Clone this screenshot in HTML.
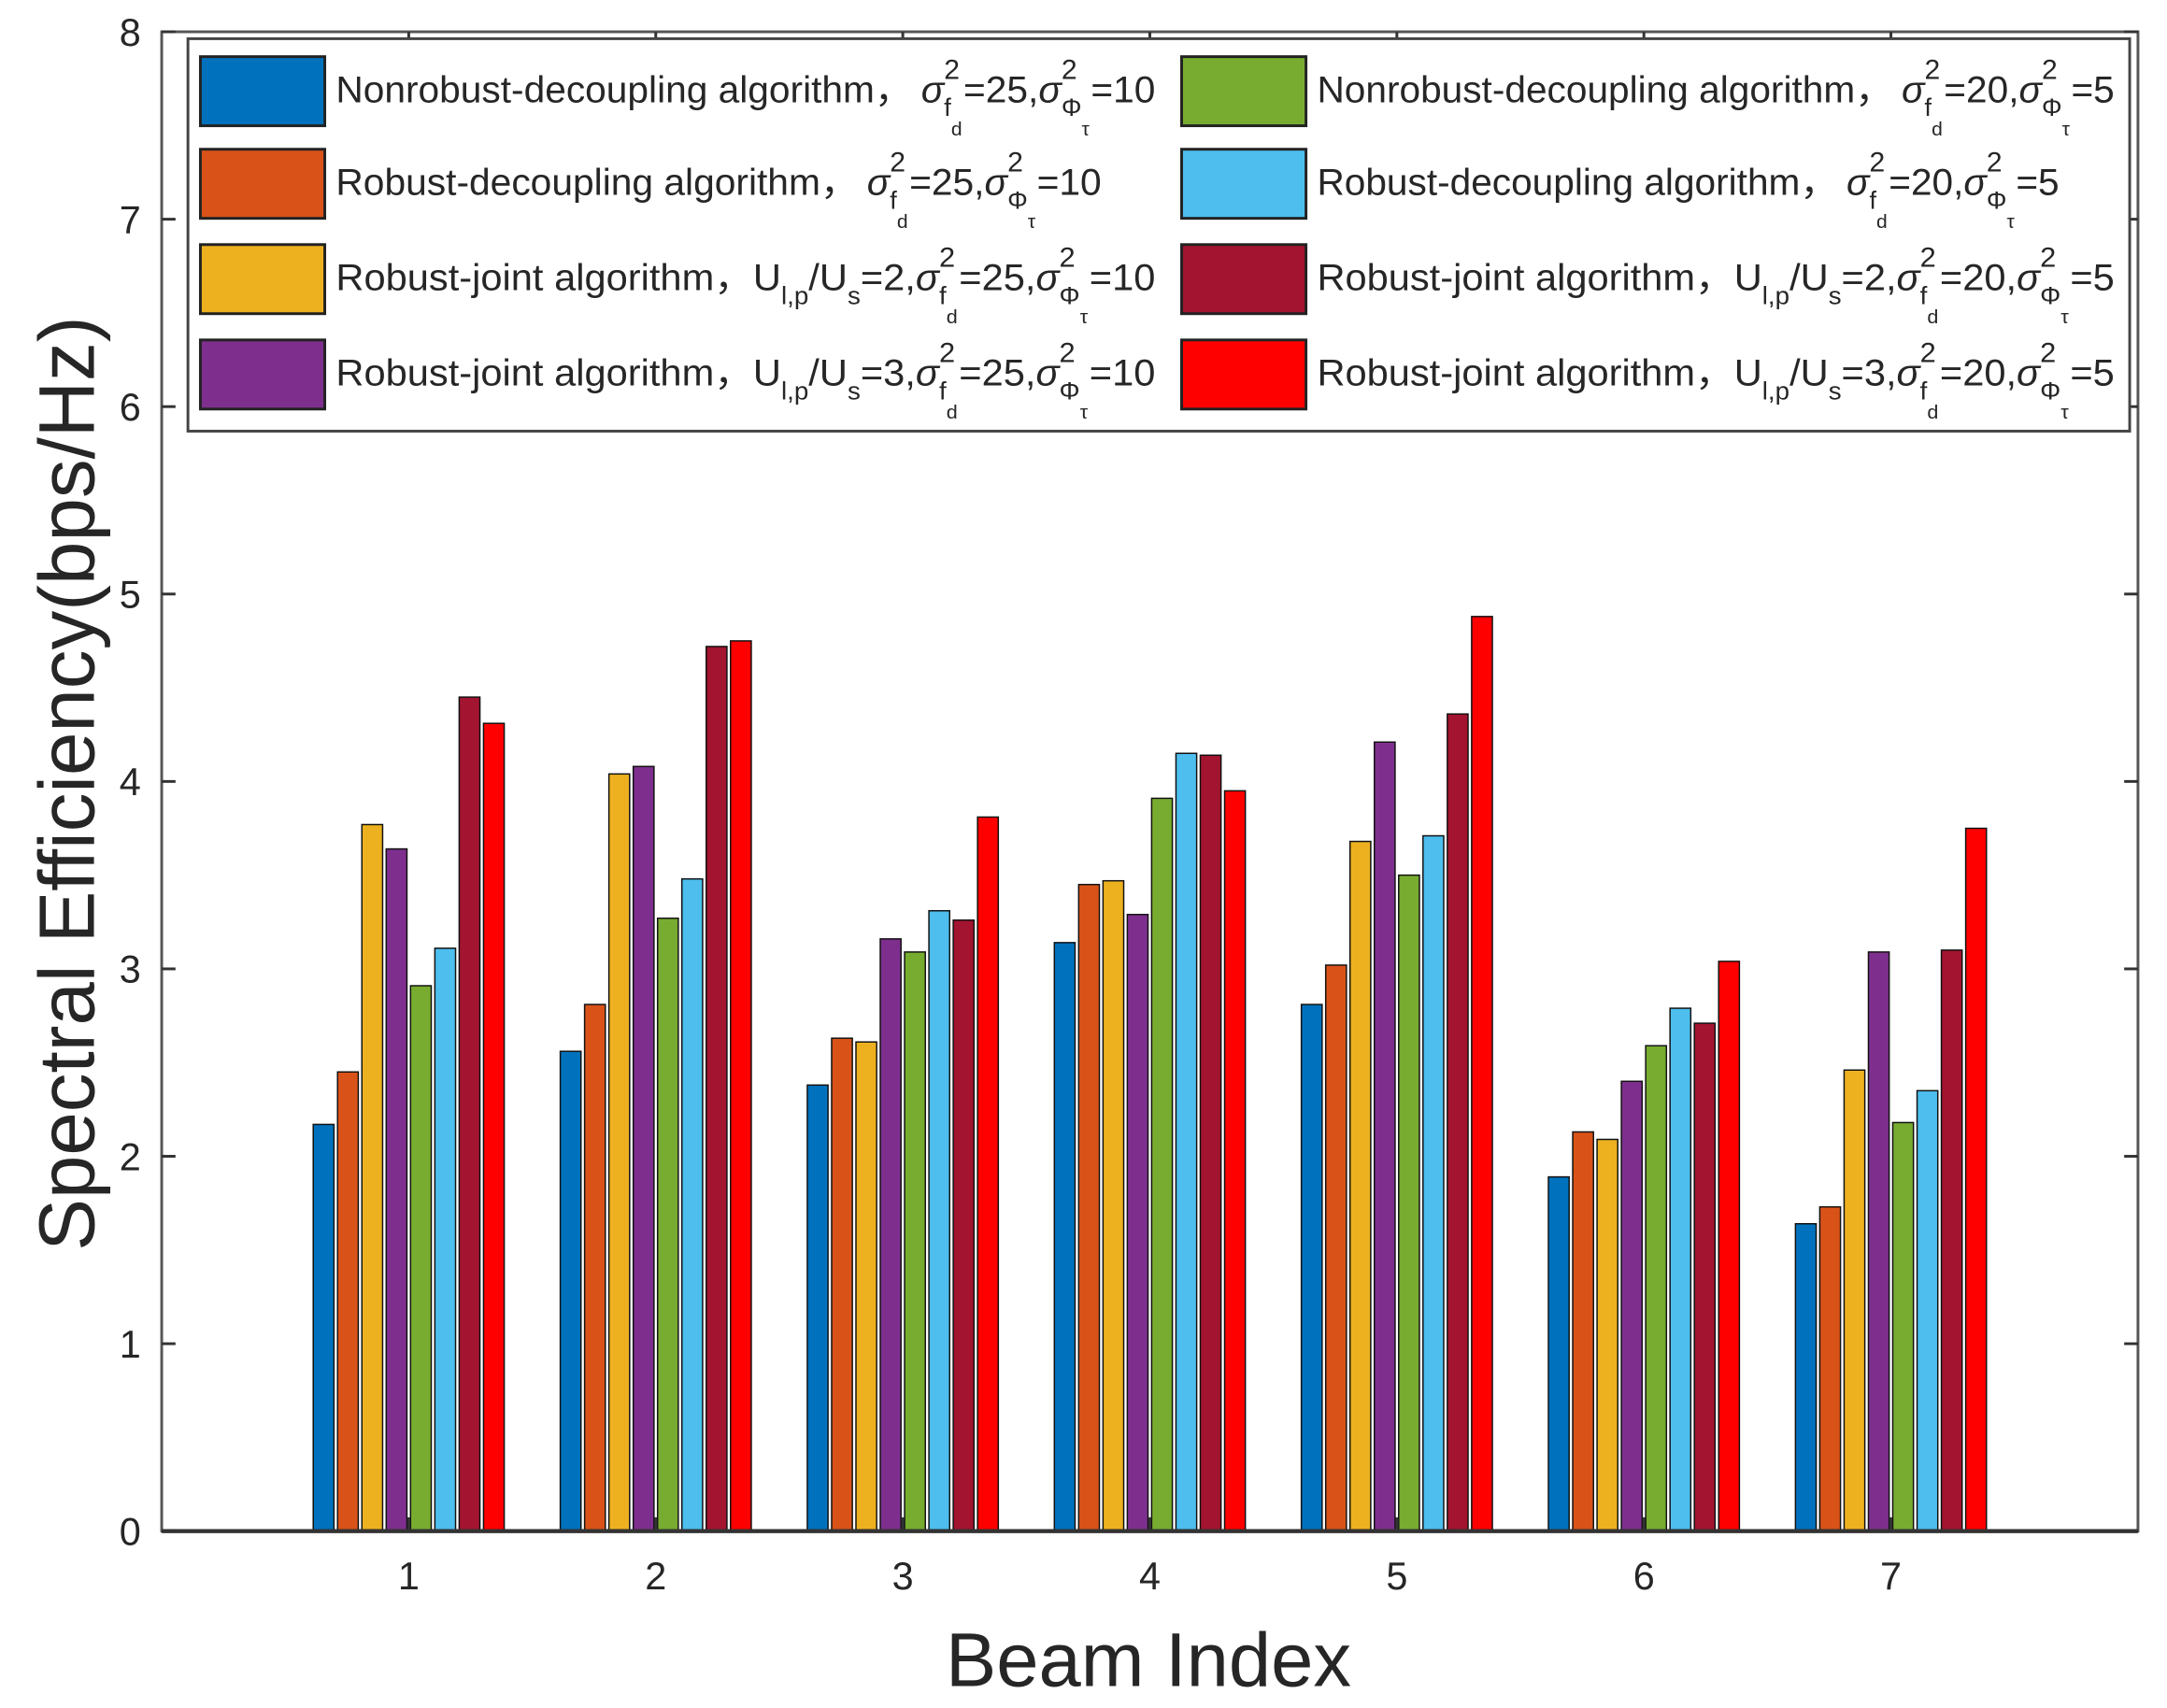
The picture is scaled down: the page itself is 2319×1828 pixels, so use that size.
<!DOCTYPE html>
<html><head><meta charset="utf-8"><style>
html,body{margin:0;padding:0;background:#fff;}
svg{display:block;}
text{font-family:"Liberation Sans",sans-serif;fill:#262626;}
</style></head><body>
<svg id="s" width="2319" height="1828" viewBox="0 0 1568 1236" preserveAspectRatio="none" xmlns="http://www.w3.org/2000/svg">
<rect x="0" y="0" width="1568" height="1236" fill="#fff"/>
<g id="bars"></g>
<g id="axes"></g>
<rect x="136" y="28" width="1405" height="284" fill="#fff" stroke="#444" stroke-width="2"/>
<g id="leg"></g>
<text x="0" y="0" transform="translate(68,567) rotate(-90) scale(0.99,1)" font-size="57" text-anchor="middle">Spectral Efficiency(bps/Hz)</text>
<text x="0" y="0" transform="translate(831,1220) scale(1.0,1)" font-size="55" text-anchor="middle">Beam Index</text>
</svg>
<script>
var NS="http://www.w3.org/2000/svg";
function el(p,t,a,txt){var e=document.createElementNS(NS,t);for(var k in a)e.setAttribute(k,a[k]);if(txt!==undefined)e.textContent=txt;p.appendChild(e);return e;}
var cols=["#0072BD","#D95319","#EDB120","#7E2F8E","#77AC30","#4DBEEE","#A2142F","#FF0000"];
var data=[[2.17,2.45,3.77,3.64,2.91,3.11,4.45,4.31],
[2.56,2.81,4.04,4.08,3.27,3.48,4.72,4.75],
[2.38,2.63,2.61,3.16,3.09,3.31,3.26,3.81],
[3.14,3.45,3.47,3.29,3.91,4.15,4.14,3.95],
[2.81,3.02,3.68,4.21,3.50,3.71,4.36,4.88],
[1.89,2.13,2.09,2.40,2.59,2.79,2.71,3.04],
[1.64,1.73,2.46,3.09,2.18,2.35,3.10,3.75]];
var L=117,R=1547,T=23,B=1108,U=(B-T)/8,XS=(R-L)/8;
var bars=document.getElementById("bars");
for(var g=0;g<7;g++){var c=L+(g+1)*XS;for(var i=0;i<8;i++){var cx=c+(i-3.5)*17.6;var h=data[g][i]*U;
el(bars,"rect",{x:cx-7.5,y:B-h,width:15,height:h,fill:cols[i],stroke:"#111","stroke-width":1});}}
var ax=document.getElementById("axes");
el(ax,"rect",{x:L,y:T,width:R-L,height:B-T,fill:"none",stroke:"#555","stroke-width":2});
el(ax,"line",{x1:L,y1:B,x2:R,y2:B,stroke:"#333","stroke-width":3});
for(var v=0;v<=8;v++){var y=B-v*U;
el(ax,"line",{x1:L,y1:y,x2:L+10,y2:y,stroke:"#333","stroke-width":2});
el(ax,"line",{x1:R,y1:y,x2:R-10,y2:y,stroke:"#333","stroke-width":2});
el(ax,"text",{x:102,y:y+10,"font-size":28,"text-anchor":"end"},String(v));}
for(var k=1;k<=7;k++){var x=L+k*XS;
el(ax,"line",{x1:x,y1:B,x2:x,y2:B-10,stroke:"#333","stroke-width":2});
el(ax,"line",{x1:x,y1:T,x2:x,y2:T+10,stroke:"#333","stroke-width":2});
el(ax,"text",{x:x,y:1150,"font-size":28,"text-anchor":"middle"},String(k));}
var leg=document.getElementById("leg");
var entries=[
[145,66,0,"Nonrobust-decoupling algorithm，",null,"25","10",836],
[145,133,1,"Robust-decoupling algorithm，",null,"25","10",797],
[145,202,2,"Robust-joint algorithm，","2","25","10",836],
[145,271,3,"Robust-joint algorithm，","3","25","10",836],
[855,66,4,"Nonrobust-decoupling algorithm，",null,"20","5",1530],
[855,133,5,"Robust-decoupling algorithm，",null,"20","5",1490],
[855,202,6,"Robust-joint algorithm，","2","20","5",1530],
[855,271,7,"Robust-joint algorithm，","3","20","5",1530]];
entries.forEach(function(e){
el(leg,"rect",{x:e[0],y:e[1]-25,width:90,height:50,fill:cols[e[2]],stroke:"#222","stroke-width":2});
var gx=e[0]+98,by=e[1]+8;
var g=el(leg,"g",{});
var cur=0;
function put(s,sz,dx,dy,st){var t=el(g,"text",{x:cur+dx,y:dy,"font-size":sz},s);if(st)t.setAttribute("font-style",st);return t.getComputedTextLength();}
cur+=put(e[3],27,0,0);
function sigma(sub1,sub2){cur+=put("σ",27,0,0,"italic");var x0=cur;var w2=put("2",20,0,-17);var wf=put(sub1,18,0,10);var wd=put(sub2,14,wf,24);cur=x0+Math.max(w2,wf+wd)+1;}
if(e[4]){cur+=put("U",27,0,0);cur+=put("l,p",18,0,10);cur+=put("/U",27,0,0);cur+=put("s",18,0,10);cur+=put("="+e[4]+",",27,0,0);}
else cur+=6;
sigma("f","d");
cur+=put("="+e[5]+",",27,0,0);
sigma("Φ","τ");
cur+=put("="+e[6],27,0,0);
var sx=(e[7]-gx)/cur;
g.setAttribute("transform","translate("+gx+","+by+") scale("+sx+",1)");
});
</script>
</body></html>
